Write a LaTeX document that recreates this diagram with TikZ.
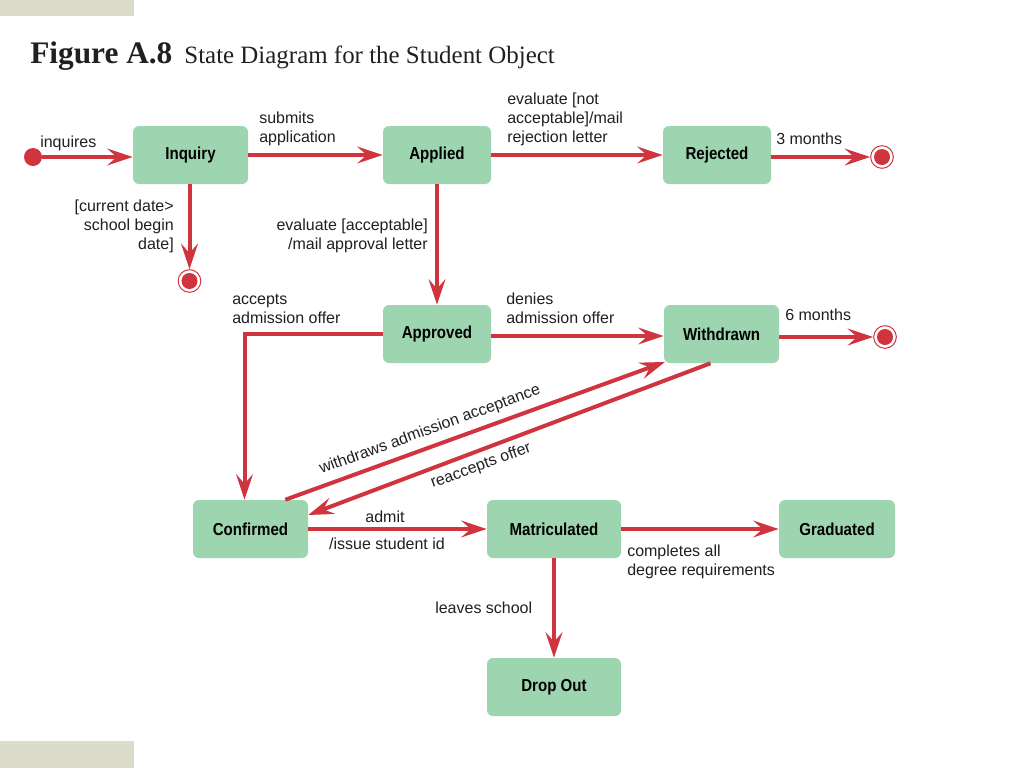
\documentclass[tikz,border=0pt]{standalone}
\usepackage{fontspec}
\setmainfont{Liberation Sans}
\newfontfamily\titlefont{Liberation Serif}
\newfontfamily\boxfont[FakeStretch=0.87]{Liberation Sans}
\usetikzlibrary{arrows.meta}
\definecolor{stgreen}{RGB}{157,213,176}
\definecolor{stred}{RGB}{208,52,62}
\definecolor{txt}{RGB}{32,32,32}
\definecolor{deco}{RGB}{220,220,204}
\tikzset{
  statebox/.style={rounded corners=4.5pt, fill=stgreen, inner sep=0pt,
    minimum height=43.5pt, font=\boxfont\bfseries\fontsize{13}{15}\selectfont, text=black},
  trans/.style={draw=stred, line width=3pt, -{Stealth[length=19pt,width=12.5pt,inset=7pt]}},
  lbl/.style={font=\fontsize{12}{14.25}\selectfont, text=txt, inner sep=0pt},
  initstate/.style={circle, fill=stred, minimum size=13.5pt, inner sep=0pt},
  finalstate/.style={circle, draw=stred, line width=0.75pt, fill=white,
    minimum size=17pt, inner sep=0pt,
    path picture={\fill[stred] (path picture bounding box.center) circle (6pt);}},
}
\begin{document}
\begin{tikzpicture}[x=0.75pt,y=-0.75pt]
\useasboundingbox (0,0) rectangle (1024,768);
\fill[white] (0,0) rectangle (1024,768);
\fill[deco] (0,0) rectangle (134,16);
\fill[deco] (0,741) rectangle (134,768);

% title
\node[anchor=base west, inner sep=0pt, text=txt] (title) at (30,63)
  {\titlefont{\bfseries\fontsize{23.5}{28}\selectfont Figure A.8}\hspace{9pt}{\fontsize{18.7}{22}\selectfont State Diagram for the Student Object}};

% states
\node[initstate] (init) at (33,157) {};
\node[statebox, minimum width=86.25pt] (inquiry) at (190.5,155) {Inquiry};
\node[statebox, minimum width=81pt] (applied) at (437,155) {Applied};
\node[statebox, minimum width=81pt] (rejected) at (717,155) {Rejected};
\node[statebox, minimum width=81pt] (approved) at (437,334) {Approved};
\node[statebox, minimum width=86.25pt] (withdrawn) at (721.5,334) {Withdrawn};
\node[statebox, minimum width=86.25pt] (confirmed) at (250.5,529) {Confirmed};
\node[statebox, minimum width=100.5pt] (matric) at (554,529) {Matriculated};
\node[statebox, minimum width=87pt] (graduated) at (837,529) {Graduated};
\node[statebox, minimum width=100.5pt] (dropout) at (554,687) {Drop Out};
\node[finalstate] (f1) at (189.5,281) {};
\node[finalstate] (f2) at (882,157) {};
\node[finalstate] (f3) at (885,337) {};

% transitions
\draw[trans] (init) -- (init -| inquiry.west);
\draw[trans] (inquiry) -- (applied);
\draw[trans] (applied) -- (rejected);
\draw[trans] (rejected.east |- f2) -- (f2);
\draw[trans] (inquiry.south -| f1) -- (f1);
\draw[trans] (applied) -- (approved);
\draw[trans] ([yshift=-1.5pt]approved.east) -- ([yshift=-1.5pt]withdrawn.west);
\draw[trans] (withdrawn.east |- f3) -- (f3);
\draw[trans] (approved.west) -| ([xshift=-4.5pt]confirmed.north);
\draw[trans] ([xshift=-17.25pt]confirmed.north east) -- ([xshift=1pt,yshift=1pt]withdrawn.south west);
\draw[trans] ([xshift=-8.25pt]withdrawn.south) -- ([yshift=10.5pt]confirmed.east);
\draw[trans] (confirmed) -- (matric);
\draw[trans] (matric) -- (graduated);
\draw[trans] (matric) -- (dropout);

% labels (base = baseline of last line)
\node[lbl, anchor=base west] (l1) at (40,147) {inquires};
\node[lbl, anchor=base west, align=left] (l2) at (259,142) {submits\\application};
\node[lbl, anchor=base west, align=left] (l3) at (507,142) {evaluate [not\\acceptable]/mail\\rejection letter};
\node[lbl, anchor=base west] (l4) at (776,144) {3 months};
\node[lbl, anchor=base east, align=right] (l5) at (174,249) {[current date>\\school begin\\date]};
\node[lbl, anchor=base east, align=right] (l6) at (428,249) {evaluate [acceptable]\\/mail approval letter};
\node[lbl, anchor=base west, align=left] (l7) at (232,323) {accepts\\admission offer};
\node[lbl, anchor=base west, align=left] (l8) at (506,323) {denies\\admission offer};
\node[lbl, anchor=base west] (l9) at (785,320) {6 months};
\node[lbl, rotate=20] (l10) at (430,430) {withdraws admission acceptance};
\node[lbl, rotate=20] (l11) at (481,466) {reaccepts offer};
\node[lbl, anchor=base] (l12) at (385,522) {admit};
\node[lbl, anchor=base] (l13) at (387,549) {/issue student id};
\node[lbl, anchor=base west, align=left] (l14) at (627,575) {completes all\\degree requirements};
\node[lbl, anchor=base west] (l15) at (435,613) {leaves school};
\end{tikzpicture}
\end{document}
